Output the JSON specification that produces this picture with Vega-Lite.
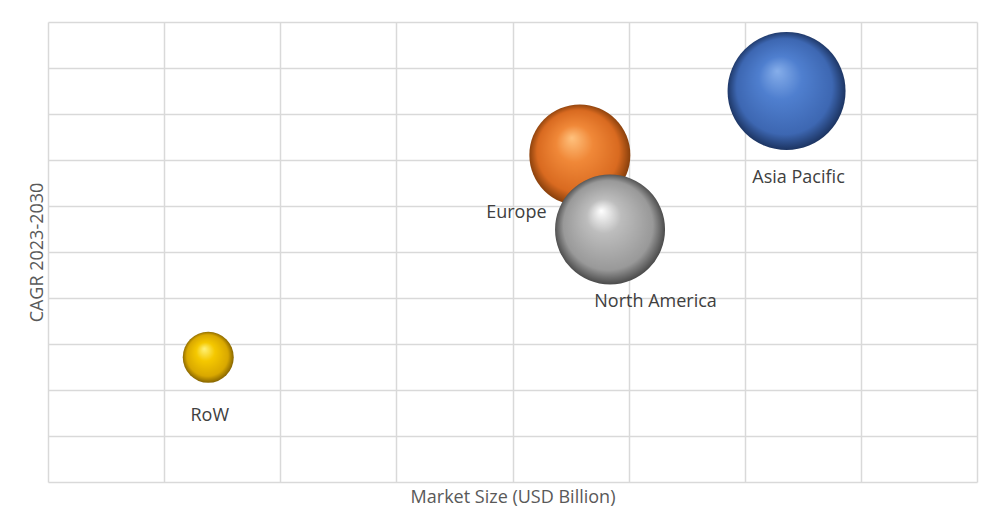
{
  "$schema": "https://vega.github.io/schema/vega-lite/v6.json",
  "width": 929,
  "height": 460,
  "autosize": "none",
  "padding": {"left": 48, "top": 22, "right": 18, "bottom": 47},
  "background": "white",
  "config": {
    "view": {"stroke": null},
    "font": "Open Sans",
    "axis": {"gridColor": "#d9d9d9", "gridWidth": 1.5, "domain": false, "ticks": false, "labels": false, "titleFont": "Open Sans", "titleFontSize": 18, "titleFontWeight": "normal", "titleColor": "#595959"}
  },
  "data": {"values": [
    {"region": "Asia Pacific", "market": 6.36, "cagr": 8.5, "bubble": 13924},
    {"region": "Europe", "market": 4.58, "cagr": 7.11, "bubble": 10201},
    {"region": "North America", "market": 4.84, "cagr": 5.49, "bubble": 12100},
    {"region": "RoW", "market": 1.38, "cagr": 2.71, "bubble": 2601}
  ]},
  "encoding": {
    "x": {"field": "market", "type": "quantitative", "scale": {"domain": [0, 8], "nice": false, "zero": false}, "axis": {"values": [0,1,2,3,4,5,6,7,8], "title": "Market Size (USD Billion)", "titlePadding": 6}},
    "y": {"field": "cagr", "type": "quantitative", "scale": {"domain": [0, 10], "nice": false, "zero": false}, "axis": {"values": [0,1,2,3,4,5,6,7,8,9,10], "title": "CAGR 2023-2030", "titlePadding": 2}}
  },
  "layer": [
    {
      "transform": [{"filter": "datum.region === 'Asia Pacific'"}],
      "mark": {"type": "circle", "opacity": 1, "fill": {"gradient": "radial", "x1": 0.42, "y1": 0.33, "r1": 0, "x2": 0.5, "y2": 0.5, "r2": 0.52, "stops": [{"offset": 0, "color": "#86aeea"}, {"offset": 0.35, "color": "#4f7fcf"}, {"offset": 0.78, "color": "#3d67b2"}, {"offset": 1, "color": "#172c55"}]}},
      "encoding": {"size": {"field": "bubble", "type": "quantitative", "scale": {"domain": [0, 14000], "range": [0, 14000]}, "legend": null}}
    },
    {
      "transform": [{"filter": "datum.region === 'Europe'"}],
      "mark": {"type": "circle", "opacity": 1, "fill": {"gradient": "radial", "x1": 0.42, "y1": 0.33, "r1": 0, "x2": 0.5, "y2": 0.5, "r2": 0.52, "stops": [{"offset": 0, "color": "#ffc27e"}, {"offset": 0.35, "color": "#f08838"}, {"offset": 0.78, "color": "#d96a20"}, {"offset": 1, "color": "#7a3808"}]}},
      "encoding": {"size": {"field": "bubble", "type": "quantitative", "scale": {"domain": [0, 14000], "range": [0, 14000]}, "legend": null}}
    },
    {
      "transform": [{"filter": "datum.region === 'North America'"}],
      "mark": {"type": "circle", "opacity": 1, "fill": {"gradient": "radial", "x1": 0.42, "y1": 0.33, "r1": 0, "x2": 0.5, "y2": 0.5, "r2": 0.52, "stops": [{"offset": 0, "color": "#ffffff"}, {"offset": 0.3, "color": "#bdbdbd"}, {"offset": 0.78, "color": "#999999"}, {"offset": 1, "color": "#3e3e3e"}]}},
      "encoding": {"size": {"field": "bubble", "type": "quantitative", "scale": {"domain": [0, 14000], "range": [0, 14000]}, "legend": null}}
    },
    {
      "transform": [{"filter": "datum.region === 'RoW'"}],
      "mark": {"type": "circle", "opacity": 1, "fill": {"gradient": "radial", "x1": 0.42, "y1": 0.33, "r1": 0, "x2": 0.5, "y2": 0.5, "r2": 0.52, "stops": [{"offset": 0, "color": "#fff27a"}, {"offset": 0.35, "color": "#f5c800"}, {"offset": 0.78, "color": "#d9a800"}, {"offset": 1, "color": "#7a5a00"}]}},
      "encoding": {"size": {"field": "bubble", "type": "quantitative", "scale": {"domain": [0, 14000], "range": [0, 14000]}, "legend": null}}
    },
    {
      "transform": [{"filter": "datum.region === 'Asia Pacific'"}],
      "mark": {"type": "text", "dx": 12, "dy": 86.5, "fontSize": 18, "color": "#404040", "baseline": "middle", "align": "center"},
      "encoding": {"text": {"field": "region"}}
    },
    {
      "transform": [{"filter": "datum.region === 'Europe'"}],
      "mark": {"type": "text", "dx": -63.5, "dy": 58.5, "fontSize": 18, "color": "#404040", "baseline": "middle", "align": "center"},
      "encoding": {"text": {"field": "region"}}
    },
    {
      "transform": [{"filter": "datum.region === 'North America'"}],
      "mark": {"type": "text", "dx": 45.5, "dy": 73, "fontSize": 18, "color": "#404040", "baseline": "middle", "align": "center"},
      "encoding": {"text": {"field": "region"}}
    },
    {
      "transform": [{"filter": "datum.region === 'RoW'"}],
      "mark": {"type": "text", "dx": 1.5, "dy": 59, "fontSize": 18, "color": "#404040", "baseline": "middle", "align": "center"},
      "encoding": {"text": {"field": "region"}}
    }
  ]
}
